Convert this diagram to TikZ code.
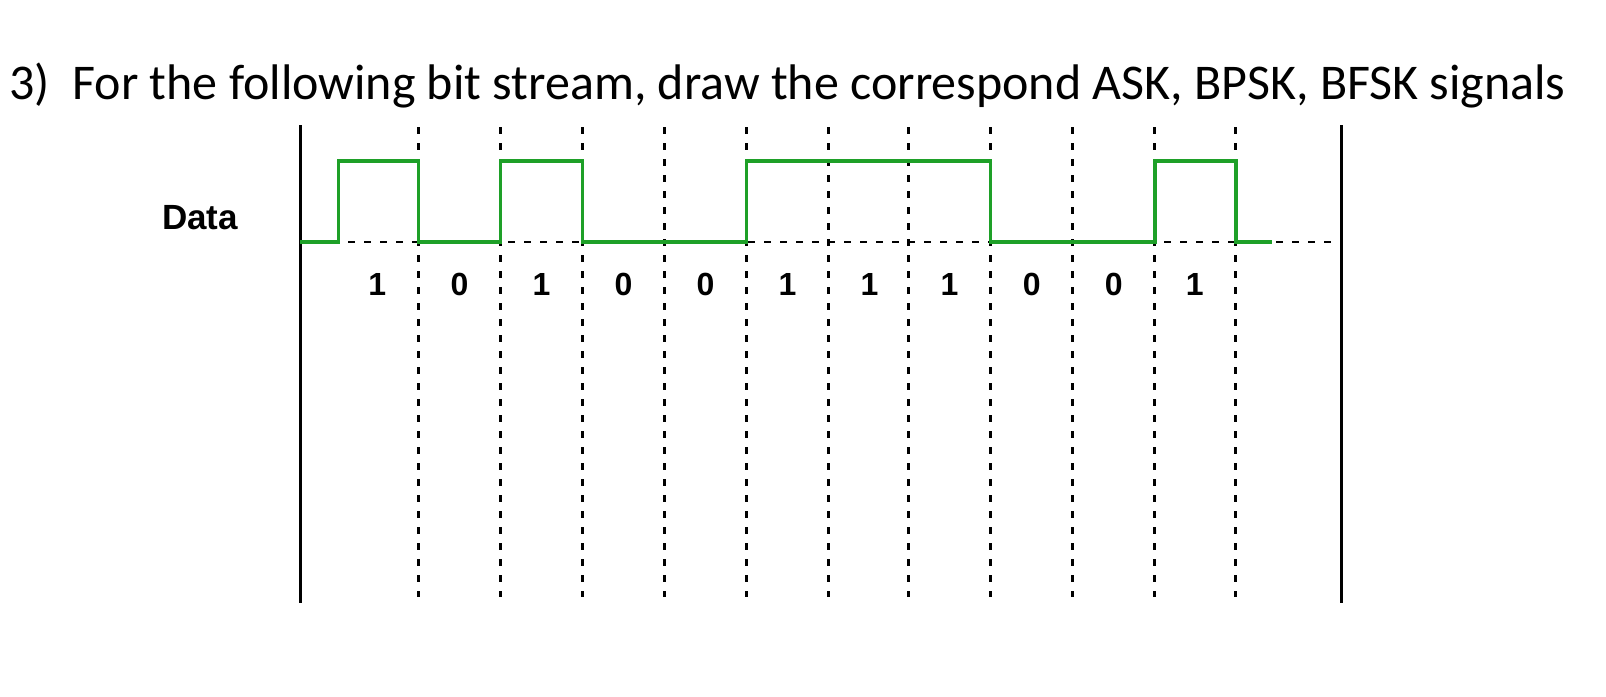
\documentclass[tikz,border=0pt]{standalone}
\usepackage{fontspec}
\setmainfont{Carlito}
\newfontfamily\arialf{Liberation Sans}
\definecolor{sig}{RGB}{30,160,40}
\begin{document}
\begin{tikzpicture}[x=1.0255pt,y=-1.0255pt,
  axis/.style={line width=2.6pt,black},
  grid/.style={line width=2.6pt,black,dash pattern=on 7pt off 9pt},
  sigline/.style={line width=3.6pt,sig},
  bitlbl/.style={font=\arialf\bfseries\fontsize{32}{32}\selectfont,inner sep=0pt}]
\useasboundingbox (0,0) rectangle (1606pt,-696pt);
\node[anchor=base west,inner sep=0pt,font=\fontsize{50}{50}\selectfont] (title) at (9,97) {3)\ \ For the following bit stream, draw the correspond ASK, BPSK, BFSK signals};
\node[font=\arialf\bfseries\fontsize{35}{35}\selectfont,inner sep=0pt] (data) at (195,212) {Data};
\draw[axis] (293,122) -- (293,588);
\draw[axis] (1308,122) -- (1308,588);
\foreach \x in {408,488,568,648,728,808,886,966,1046,1126,1205}
  \draw[grid] (\x,124) -- (\x,582);
\draw[grid] (293,236) -- (1305,236);
\draw[sigline] (293,236) -- (330,236) -- (330,157) -- (408,157) -- (408,236) -- (488,236) -- (488,157) -- (568,157) -- (568,236) -- (728,236) -- (728,157) -- (966,157) -- (966,236) -- (1126,236) -- (1126,157) -- (1205,157) -- (1205,236) -- (1240,236);
\foreach \x/\b [count=\i] in {368/1,448/0,528/1,608/0,688/0,768/1,848/1,926/1,1006/0,1086/0,1165/1}
  \node[bitlbl] (b\i) at (\x,277) {\b};
\end{tikzpicture}
\end{document}
